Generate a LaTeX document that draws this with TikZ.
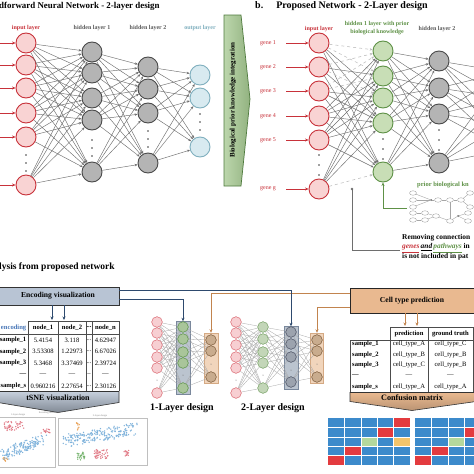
\documentclass[tikz,border=0pt]{standalone}
\usepackage{fontspec}
\setmainfont{Liberation Serif}
\usetikzlibrary{arrows.meta,shapes.geometric,calc}
\definecolor{cRed}{HTML}{C8323A}
\definecolor{cRedF}{HTML}{F9D3D3}
\definecolor{cGray}{HTML}{4A4A4A}
\definecolor{cGrayF}{HTML}{B4B4B4}
\definecolor{cOut}{HTML}{7FAFBE}
\definecolor{cOutF}{HTML}{D8EAF0}
\definecolor{cGreen}{HTML}{5E9146}
\definecolor{cGreenF}{HTML}{C8DEB6}
\definecolor{cLine}{HTML}{6E6E6E}
\definecolor{cTxtGray}{HTML}{5A5A5A}
\definecolor{cBlueBox}{HTML}{B8C4D4}
\definecolor{cSlate}{HTML}{8E9DB0}
\definecolor{cSlateD}{HTML}{7A889C}
\definecolor{cNavy}{HTML}{2E4A6E}
\definecolor{cOrange}{HTML}{C2844E}
\definecolor{cOrBox}{HTML}{E9B990}
\definecolor{cArrowG}{HTML}{BCD6AC}
\definecolor{cArrowGR}{HTML}{92B280}
\definecolor{cArrowGD}{HTML}{4F7A3E}
\definecolor{hmBlue}{HTML}{3C8ACB}
\definecolor{hmRed}{HTML}{E33B3F}
\definecolor{hmGreen}{HTML}{B4D89C}
\definecolor{hmYellow}{HTML}{F2C46C}
\definecolor{cEncBlue}{HTML}{4A78B8}
\definecolor{tsB}{HTML}{7FB3DC}
\definecolor{tsR}{HTML}{E27A86}
\definecolor{tsO}{HTML}{EAA45A}
\definecolor{tsG}{HTML}{72B26A}
\definecolor{sPinkF}{HTML}{F7CFD2}
\definecolor{sPinkD}{HTML}{E07C84}
\definecolor{sGreenF}{HTML}{A9C59A}
\definecolor{sGreenD}{HTML}{6A9A58}
\definecolor{sGrayF}{HTML}{9CA3AE}
\definecolor{sGrayD}{HTML}{5A6070}
\definecolor{sOrF}{HTML}{C9AC8E}
\definecolor{sOrD}{HTML}{8A6A4A}
\newcommand{\fsz}[2]{\fontsize{#1}{#2}\selectfont}
\newcommand{\tdots}{...}
\begin{document}
\begin{tikzpicture}[x=1pt,y=-1pt,
  redn/.style={circle,draw=cRed,fill=cRedF,line width=0.9pt,minimum size=20pt,inner sep=0pt},
  grayn/.style={circle,draw=cGray,fill=cGrayF,line width=0.9pt,minimum size=20pt,inner sep=0pt},
  outn/.style={circle,draw=cOut,fill=cOutF,line width=0.9pt,minimum size=20pt,inner sep=0pt},
  greenn/.style={circle,draw=cGreen,fill=cGreenF,line width=0.9pt,minimum size=20pt,inner sep=0pt},
  conn/.style={draw=cLine,line width=0.45pt,-{Stealth[length=3pt,width=2.4pt]}},
  dconn/.style={draw=gray!55,line width=0.5pt,dashed,-{Stealth[length=3pt,width=2.4pt]}},
  inarr/.style={draw=cRed,line width=0.7pt,-{Stealth[length=3.5pt,width=3pt]}},
  ttl/.style={font=\fsz{10}{12}\bfseries,inner sep=0pt},
  lyr/.style={font=\fsz{6}{7}\bfseries,inner sep=0pt},
  genel/.style={font=\fsz{6}{7},text=cRed,inner sep=0pt},
  pw/.style={ellipse,draw=gray!70,fill=white,line width=0.4pt,minimum width=7pt,minimum height=4.5pt,inner sep=0pt},
  pwj/.style={circle,fill=gray!80!black,inner sep=0pt,minimum size=2pt},
  pwl/.style={draw=gray!70,line width=0.4pt},
  snode/.style={circle,minimum size=10.5pt,inner sep=0pt,line width=0.5pt},
  spink/.style={snode,draw=sPinkD,fill=sPinkF},
  sgreen/.style={snode,draw=sGreenD,fill=sGreenF},
  sgreenl/.style={snode,draw=sGreenD!80,fill=sGreenF!70},
  sgray/.style={snode,draw=sGrayD,fill=sGrayF},
  sorange/.style={snode,draw=sOrD,fill=sOrF},
  sconn/.style={draw=gray!70,line width=0.3pt},
  colslate/.style={rectangle,draw=cSlateD,line width=0.4pt,fill=cSlate,fill opacity=0.6,inner sep=0pt},
  colorange/.style={rectangle,draw=cOrange!70,line width=0.4pt,fill=cOrBox,fill opacity=0.6,inner sep=0pt},
  navyarr/.style={draw=cNavy,line width=0.8pt,-{Stealth[length=3.5pt,width=3pt]}},
  orarr/.style={draw=cOrange,line width=0.8pt,-{Stealth[length=3.5pt,width=3pt]}},
  tline/.style={draw=gray!60!black,line width=0.5pt},
  tb/.style={font=\fsz{6.6}{7.6},inner sep=0pt},
  tbb/.style={font=\fsz{6.6}{7.6}\bfseries,inner sep=0pt},
  boxlbl/.style={font=\fsz{7.6}{9}\bfseries,inner sep=0pt},
  tiny/.style={font=\fsz{2.5}{3},text=gray,inner sep=0pt}
]
\useasboundingbox (0,0) rectangle (474,474);
\fill[white] (0,0) rectangle (474,474);
\clip (0,0) rectangle (474,474);

%% ---------------- Panel a ----------------
\node[font=\fsz{8.9}{11}\bfseries,inner sep=0pt,anchor=west] (tA) at (-1,6) {dforward Neural Network - 2-layer design};
\node[lyr,text=cRed] (la1) at (26,28) {input layer};
\node[lyr,text=cTxtGray] (la2) at (92,28) {hidden layer 1};
\node[lyr,text=cTxtGray] (la3) at (148,28) {hidden layer 2};
\node[lyr,text=cOut] (la4) at (200,28) {output layer};

\foreach \i/\y in {1/43,2/65,3/88,4/113,5/137,6/185} \node[redn] (a\i) at (26,\y) {};
\foreach \i/\y in {1/52,2/73,3/98,4/120,5/172} \node[grayn] (h\i) at (92,\y) {};
\foreach \i/\y in {1/67,2/89,3/113,4/163} \node[grayn] (k\i) at (148,\y) {};
\foreach \i/\y in {1/75,2/98,3/147} \node[outn] (o\i) at (200,\y) {};

\foreach \i in {1,...,6}{\foreach \j in {1,...,5}{\draw[conn] (a\i) -- (h\j);}}
\foreach \i in {1,...,5}{\foreach \j in {1,...,4}{\draw[conn] (h\i) -- (k\j);}}
\foreach \i in {1,...,4}{\foreach \j in {1,...,3}{\draw[conn] (k\i) -- (o\j);}}
\foreach \i in {1,...,6}{\coordinate (ain\i) at ($(a\i)+(-28,0)$); \draw[inarr] (ain\i) -- (a\i);}

\foreach \y in {155,163,171} \fill[black!75] (26,\y) circle (0.8);
\foreach \y in {140,148,156} \fill[black!75] (92,\y) circle (0.8);
\foreach \y in {131,139,147} \fill[black!75] (148,\y) circle (0.8);
\foreach \y in {114,122,130} \fill[black!75] (200,\y) circle (0.8);

% big chevron
\draw[left color=cArrowG,right color=cArrowGR,draw=cArrowGD,line width=0.7pt]
  (224,15) -- (241,15) -- (250,99) -- (241,186) -- (224,186) -- cycle;
\node[rotate=90,font=\fsz{7}{8}\bfseries,inner sep=0pt] (bigtxt) at (233,100) {Biological prior knowledge integration};

%% ---------------- Panel b ----------------
\node[ttl,anchor=west] (tB) at (255,6) {b.\hspace{13pt}Proposed Network - 2-Layer design};
\node[lyr,text=cRed] (lb1) at (319,29) {input layer};
\node[lyr,text=cGreen,align=center] (lb2) at (377,28) {hidden 1 layer with prior\\[1pt]biological knowledge};
\node[lyr,text=cTxtGray] (lb3) at (437,29) {hidden layer 2};

\foreach \i/\y/\t in {1/43/1,2/67/2,3/91/3,4/116/4,5/140/5,6/189/g}{
  \node[genel] (gl\i) at (268,\y) {gene \t};
  \node[redn] (b\i) at (319,\y) {};
  \coordinate (bin\i) at (286,\y);
}
\foreach \i/\y in {1/51,2/76,3/98,4/123,5/172} \node[greenn] (g\i) at (383,\y) {};
\foreach \i/\y in {1/61,2/88,3/114,4/163} \node[grayn] (m\i) at (439,\y) {};
\foreach \i/\y in {1/72,2/98,3/124,4/150} \coordinate (nx\i) at (505,\y);

\foreach \p in {1-1,1-2,2-1,2-3,3-2,3-1,6-5}{\expandafter\gdef\csname dsh\p\endcsname{}}
\foreach \i in {1,...,6}{\foreach \j in {1,...,5}{%
  \ifcsname dsh\i-\j\endcsname \draw[dconn] (b\i) -- (g\j); \else \draw[conn] (b\i) -- (g\j); \fi}}
\foreach \i in {1,...,5}{\foreach \j in {1,...,4}{\draw[conn] (g\i) -- (m\j);}}
\foreach \i in {1,...,4}{\foreach \j in {1,...,4}{\draw[conn] (m\i) -- (nx\j);}}
\foreach \i in {1,...,6}{\draw[inarr] (bin\i) -- (b\i);}

\foreach \y in {155,165,175} \fill[black!75] (319,\y) circle (0.8);
\foreach \y in {139,149,159} \fill[black!75] (383,\y) circle (0.8);
\foreach \y in {130,140,150} \fill[black!75] (439,\y) circle (0.8);

% pointer for removed connections
\coordinate (mk) at (352,189);
\coordinate (mkend) at (400,250);
\fill[cLine] (mk) circle (1.4);
\draw[cLine,line width=0.7pt] (mk) |- (mkend);

% prior biological knowledge graph
\node[font=\fsz{6.5}{7.5}\bfseries,text=cGreen,anchor=west,inner sep=0pt] (pbk) at (417,185) {prior biological kn};
\coordinate (gpath) at (407,208);
\draw[draw=cGreen,line width=0.8pt,-{Stealth[length=3.5pt,width=3pt]}] (gpath) -| (g5.south);
\node[pw] (p1) at (413,193) {};
\node[pw] (p2) at (413,200) {};
\node[pw] (p3) at (413,207) {};
\node[pwj] (q1) at (431,200) {};
\node[pw] (p4) at (438,200) {};
\node[pw] (p5) at (450,200) {};
\node[pw] (p6) at (461,200) {};
\node[pw] (p7) at (470,193) {};
\node[pw] (p8) at (470,207) {};
\node[pw] (r1) at (413,213) {};
\node[pw] (r2) at (413,220) {};
\node[pw] (r3) at (425,213) {};
\node[pw] (r4) at (425,220) {};
\node[pw] (r5) at (436,216) {};
\node[pw] (r6) at (450,221) {};
\node[pwj] (q2) at (458,216) {};
\node[pw] (r7) at (468,213) {};
\node[pw] (r8) at (468,221) {};
\foreach \u/\v in {p1/q1,p2/q1,p3/q1,q1/p4,p4/p5,p5/p6,p6/p7,p6/p8,p5/r6,r1/r3,r2/r4,r3/r5,r4/r5,r5/r6,r6/q2,q2/r7,q2/r8}
  \draw[pwl] (\u) -- (\v);

% removing connection text
\node[font=\fsz{7.4}{8.5}\bfseries,anchor=west,inner sep=0pt] (rm1) at (402,238) {Removing connection};
\node[font=\fsz{7.4}{8.5}\bfseries,anchor=west,inner sep=0pt] (rm2) at (402,248)
  {\textcolor{cRed}{\underline{\itshape genes}}\,\underline{\itshape and}\,\textcolor{cGreen}{\underline{\itshape pathways}} in};
\node[font=\fsz{7.4}{8.5}\bfseries,anchor=west,inner sep=0pt] (rm3) at (402,257) {is not included in pat};

%% ---------------- Panel c ----------------
\node[font=\fsz{9.5}{11}\bfseries,anchor=west,inner sep=0pt] (tC) at (-1,267) {lysis from proposed network};

\node[draw=gray!40!black,fill=cBlueBox,line width=0.6pt,minimum width=122pt,minimum height=18pt,inner sep=0pt] (enc) at (58,296) {};
\node[boxlbl] (enct) at (58,296) {Encoding visualization};

% 1-layer design
\node[colslate,minimum width=14pt,minimum height=73pt] (c1g) at (183,358) {};
\node[colorange,minimum width=14pt,minimum height=50pt] (c1o) at (211,358) {};
\foreach \i/\y in {1/322,2/333,3/345,4/357,5/368,6/393} \node[spink] (sp\i) at (157,\y) {};
\foreach \i/\y in {1/327,2/339,3/352,4/363,5/388} \node[sgreen] (sg\i) at (183,\y) {};
\foreach \i/\y in {1/340,2/351,3/377} \node[sorange] (so\i) at (211,\y) {};
\foreach \i in {1,...,6}{\foreach \j in {1,...,5}{\draw[sconn] (sp\i) -- (sg\j);}}
\foreach \i in {1,...,5}{\foreach \j in {1,...,3}{\draw[sconn] (sg\i) -- (so\j);}}
\foreach \i in {1,...,6} \node[spink] at (sp\i) {};
\foreach \i in {1,...,5} \node[sgreen] at (sg\i) {};
\foreach \i in {1,...,3} \node[sorange] at (so\i) {};
\fill[black!60] (157,380) circle (0.5);
\fill[black!60] (183,375) circle (0.5);
\fill[black!60] (211,364) circle (0.5);
\node[font=\fsz{10}{12}\bfseries,inner sep=0pt] (l1d) at (182,408) {1-Layer design};

% 2-layer design
\node[colslate,minimum width=14pt,minimum height=63pt] (c2g) at (291,358) {};
\node[colorange,minimum width=13pt,minimum height=50pt] (c2o) at (317,358) {};
\foreach \i/\y in {1/322,2/333,3/345,4/357,5/368,6/393} \node[spink] (tp\i) at (236,\y) {};
\foreach \i/\y in {1/327,2/339,3/352,4/363,5/388} \node[sgreenl] (tg\i) at (263,\y) {};
\foreach \i/\y in {1/332,2/344,3/357,4/382} \node[sgray] (tq\i) at (291,\y) {};
\foreach \i/\y in {1/340,2/351,3/377} \node[sorange] (to\i) at (317,\y) {};
\foreach \i in {1,...,6}{\foreach \j in {1,...,5}{\draw[sconn] (tp\i) -- (tg\j);}}
\foreach \i in {1,...,5}{\foreach \j in {1,...,4}{\draw[sconn] (tg\i) -- (tq\j);}}
\foreach \i in {1,...,4}{\foreach \j in {1,...,3}{\draw[sconn] (tq\i) -- (to\j);}}
\foreach \i in {1,...,6} \node[spink] at (tp\i) {};
\foreach \i in {1,...,5} \node[sgreenl] at (tg\i) {};
\foreach \i in {1,...,4} \node[sgray] at (tq\i) {};
\foreach \i in {1,...,3} \node[sorange] at (to\i) {};
\fill[black!60] (236,380) circle (0.5);
\fill[black!60] (263,375) circle (0.5);
\fill[black!60] (291,370) circle (0.5);
\fill[black!60] (317,364) circle (0.5);
\node[font=\fsz{10}{12}\bfseries,inner sep=0pt] (l2d) at (273,408) {2-Layer design};

% cell type prediction box
\node[draw=gray!30!black,fill=cOrBox,line width=0.6pt,minimum width=126pt,minimum height=25pt,inner sep=0pt] (ctp) at (413,300.5) {};
\node[boxlbl] (ctpt) at (412,300.5) {Cell type prediction};

% connectors
\coordinate (e1) at (119,290);
\coordinate (e2) at (119,299);
\coordinate (o1) at (350,293);
\coordinate (o2) at (350,307);
\draw[orarr] (o1) -| (c1o.north);
\draw[orarr] (o2) -| (c2o.north);
\draw[navyarr] (e1) -| (c2g.north);
\draw[navyarr] (e2) -| (c1g.north);

% encoding table
\coordinate (ea1) at (52,305); \coordinate (eb1) at (52,320);
\coordinate (ea2) at (64,305); \coordinate (eb2) at (64,320);
\draw[navyarr] (ea1) -- (eb1);
\draw[navyarr] (ea2) -- (eb2);
\draw[tline] (28,321) -- (119,321);
\draw[tline] (0,334) -- (119,334);
\draw[tline] (0,391) -- (119,391);
\foreach \x in {28,58,86,92,119} \draw[tline] (\x,321) -- (\x,391);
\node[tbb,text=cEncBlue,anchor=east] (hE) at (26.5,327.5) {encoding};
\node[tbb] (hN1) at (43,327.5) {node\_1};
\node[tbb] (hN2) at (72,327.5) {node\_2};
\node[tbb] (hND) at (89,327.5) {\tdots};
\node[tbb] (hNn) at (105.5,327.5) {node\_n};
\foreach \r/\y/\s/\va/\vb/\vd/\vn in {1/340/sample\_1/5.4154/3.118/\tdots/4.62947,
   2/351.5/sample\_2/3.53308/1.22973/\tdots/6.67026,
   3/363/sample\_3/5.3468/3.37469/\tdots/2.39724,
   4/374.5/---/---/---/--/---,
   5/386/sample\_s/0.960216/2.27654/\tdots/2.30126}{
  \node[tbb,anchor=east] (rs\r) at (26.5,\y) {\s};
  \node[tb] (rva\r) at (43,\y) {\va};
  \node[tb] (rvb\r) at (72,\y) {\vb};
  \node[tb] (rvc\r) at (89,\y) {\vd};
  \node[tb] (rvd\r) at (105.5,\y) {\vn};
}

% tSNE banner
\draw[top color=cBlueBox!80,bottom color=cBlueBox!70!black,draw=gray!40!black,line width=0.6pt]
  (-2,391.5) -- (119,391.5) -- (119,402.5) -- (58,412.5) -- (-2,402.5) -- cycle;
\node[font=\fsz{8}{9}\bfseries,inner sep=0pt] (tsn) at (58,397.5) {tSNE visualization};

% tSNE plots
\draw[gray!50,line width=0.4pt,fill=white] (-1,417) rectangle (55,467);
\draw[gray!50,line width=0.4pt,fill=white] (58,418) rectangle (147,465);
\node[tiny] (ts1) at (18,414.5) {1-layer design};
\node[tiny] (ts2) at (50,413) {Encoding information};
\node[tiny] (ts3) at (100,415.5) {2-layer design};
\pgfmathsetseed{11}
\foreach \k in {1,...,150}{\pgfmathsetmacro{\tt}{rnd}\pgfmathsetmacro{\xx}{4+38*\tt+5*rand}\pgfmathsetmacro{\yy}{455-16*\tt+5*rand}\fill[tsB] (\xx,\yy) circle (0.75);}
\foreach \k in {1,...,45}{\pgfmathsetmacro{\xx}{14+10*rand}\pgfmathsetmacro{\yy}{426+4.5*rand}\fill[tsR] (\xx,\yy) circle (0.75);}
\foreach \k in {1,...,15}{\pgfmathsetmacro{\xx}{45+5*rand}\pgfmathsetmacro{\yy}{431+2*rand}\fill[tsR] (\xx,\yy) circle (0.75);}
\foreach \k in {1,...,8}{\pgfmathsetmacro{\xx}{5+2.5*rand}\pgfmathsetmacro{\yy}{460+2.5*rand}\fill[tsO] (\xx,\yy) circle (0.75);}
\foreach \k in {1,...,220}{\pgfmathsetmacro{\tt}{rnd}\pgfmathsetmacro{\xx}{66+68*\tt+4*rand}\pgfmathsetmacro{\yy}{441-12*\tt+6*rand}\fill[tsB] (\xx,\yy) circle (0.75);}
\foreach \k in {1,...,10}{\pgfmathsetmacro{\xx}{78+1.5*rand}\pgfmathsetmacro{\yy}{426+4*rand}\fill[tsO] (\xx,\yy) circle (0.75);}
\foreach \k in {1,...,25}{\pgfmathsetmacro{\xx}{81+4*rand}\pgfmathsetmacro{\yy}{456+4*rand}\fill[tsG] (\xx,\yy) circle (0.75);}
\foreach \k in {1,...,45}{\pgfmathsetmacro{\xx}{101+7*rand}\pgfmathsetmacro{\yy}{454+4.5*rand}\fill[tsR] (\xx,\yy) circle (0.75);}
\foreach \k in {1,...,15}{\pgfmathsetmacro{\xx}{127+3*rand}\pgfmathsetmacro{\yy}{453+3*rand}\fill[tsR] (\xx,\yy) circle (0.75);}

% cell type table
\coordinate (ca1) at (405,313); \coordinate (cb1) at (405,326);
\coordinate (ca2) at (417,313); \coordinate (cb2) at (417,326);
\draw[orarr] (ca1) -- (cb1);
\draw[orarr] (ca2) -- (cb2);
\draw[tline] (390,327) -- (476,327);
\draw[tline] (350,340) -- (476,340);
\draw[tline] (350,340) -- (350,392);
\draw[tline] (390,327) -- (390,392);
\draw[tline] (428,327) -- (428,392);
\draw[tline] (473,327) -- (473,392);
\node[tbb] (hp) at (409,333.5) {prediction};
\node[tbb] (hg) at (450.5,333.5) {ground truth};
\foreach \r/\y/\s/\pa/\pb in {1/344/sample\_1/cell\_type\_A/cell\_type\_C,
   2/354.5/sample\_2/cell\_type\_B/cell\_type\_B,
   3/365/sample\_3/cell\_type\_C/cell\_type\_B,
   4/376/---/---/---,
   5/387/sample\_s/cell\_type\_A/cell\_type\_A}{
  \node[tbb,anchor=west] (cs\r) at (352,\y) {\s};
  \node[tb] (cp\r) at (409,\y) {\pa};
  \node[tb] (cg\r) at (450.5,\y) {\pb};
}

% confusion banner
\draw[top color=cOrBox,bottom color=cOrBox!80!black,draw=gray!40!black,line width=0.6pt]
  (350,392.5) -- (476,392.5) -- (476,401.5) -- (412,410.5) -- (350,401.5) -- cycle;
\node[font=\fsz{8.2}{9}\bfseries,inner sep=0pt] (cmt) at (412,397.5) {Confusion matrix};

% heatmaps
\foreach \xo in {328,415}{\fill[hmBlue] (\xo,418) rectangle ++(82,47);}
\foreach \xo/\r/\c/\col in {328/1/5/hmRed,328/2/4/hmRed,328/3/3/hmGreen,328/3/5/hmYellow,328/4/2/hmRed,328/5/1/hmRed,
  415/2/4/hmRed,415/3/3/hmGreen,415/4/2/hmRed,415/5/1/hmRed}{
  \fill[\col] ({\xo+(\c-1)*16.4},{418+(\r-1)*9.4}) rectangle ++(16.4,9.4);}
\foreach \xo in {328,415}{
  \foreach \c in {1,...,4}{\draw[white,line width=0.6pt] ({\xo+\c*16.4},418) -- ++(0,47);}
  \foreach \r in {1,...,4}{\draw[white,line width=0.6pt] (\xo,{418+\r*9.4}) -- ++(82,0);}
}
\end{tikzpicture}
\end{document}
